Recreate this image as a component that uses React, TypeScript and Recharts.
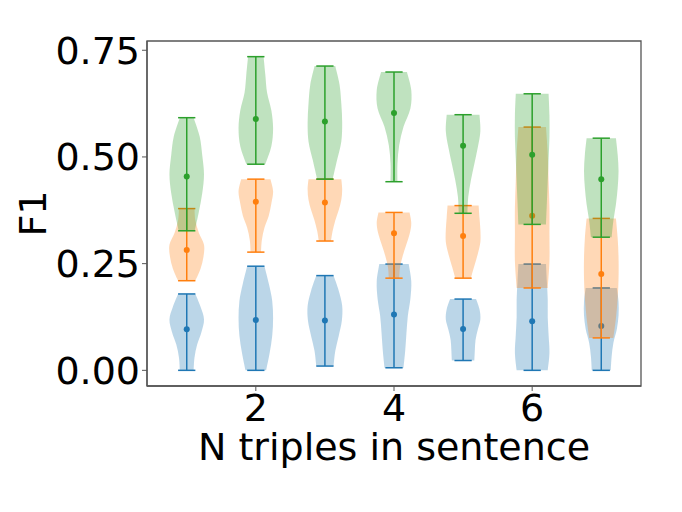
import React from 'react';
import * as R from 'recharts';

const { ComposedChart, XAxis, YAxis, Scatter, ReferenceArea, Label } = R as any;
const RA: any = R;

// ---------- data ----------
const positions = [1, 2, 3, 4, 5, 6, 7];
const xTicks = [2, 4, 6];
const yTicks = [0, 0.25, 0.5, 0.75];

// blue series
const blueMin = [0.0, 0.0, 0.01, 0.006, 0.023, 0.0, 0.0];
const blueMax = [0.179, 0.244, 0.222, 0.249, 0.167, 0.249, 0.193];
const blueMean = [0.096, 0.118, 0.117, 0.131, 0.097, 0.115, 0.104];
// relative half-widths of each violin, from its minimum (first) to its maximum (last)
const blueShape = [
  [0.4, 0.45, 0.6, 0.85, 1.0, 0.8, 0.5],
  [0.6, 0.8, 0.95, 1.0, 0.95, 0.75, 0.5],
  [0.5, 0.6, 0.8, 0.98, 1.0, 0.8, 0.5],
  [0.55, 0.65, 0.72, 0.8, 0.95, 1.0, 0.85],
  [0.65, 0.68, 0.72, 0.85, 1.0, 0.95, 0.75],
  [0.9, 1.0, 0.95, 0.9, 0.9, 0.85, 0.8],
  [0.55, 0.6, 0.7, 0.9, 1.0, 1.0, 0.9],
];

// orange series
const orangeMin = [0.21, 0.277, 0.303, 0.216, 0.216, 0.193, 0.076];
const orangeMax = [0.379, 0.448, 0.448, 0.37, 0.386, 0.57, 0.356];
const orangeMean = [0.282, 0.395, 0.393, 0.321, 0.315, 0.362, 0.226];
const orangeShape = [
  [0.5, 0.8, 0.97, 1.0, 0.7, 0.5, 0.45],
  [0.3, 0.35, 0.5, 0.75, 0.9, 1.0, 0.85],
  [0.35, 0.45, 0.6, 0.8, 0.95, 1.0, 0.95],
  [0.3, 0.35, 0.5, 0.7, 0.9, 1.0, 0.9],
  [0.45, 0.65, 0.85, 1.0, 1.0, 0.95, 0.9],
  [0.9, 1.0, 1.0, 1.0, 0.95, 0.9, 0.8],
  [0.7, 0.85, 0.95, 1.0, 1.0, 0.95, 0.85],
];

// green series
const greenMin = [0.327, 0.483, 0.448, 0.442, 0.368, 0.342, 0.312];
const greenMax = [0.592, 0.735, 0.713, 0.699, 0.599, 0.648, 0.544];
const greenMean = [0.454, 0.589, 0.583, 0.603, 0.526, 0.505, 0.448];
const greenShape = [
  [0.46, 0.7, 0.9, 1.0, 0.9, 0.75, 0.4],
  [0.55, 0.9, 1.0, 0.9, 0.65, 0.55, 0.45],
  [0.45, 0.7, 0.95, 1.0, 0.95, 0.85, 0.6],
  [0.2, 0.2, 0.3, 0.55, 0.95, 1.0, 0.75],
  [0.25, 0.3, 0.45, 0.65, 0.85, 1.0, 0.95],
  [0.8, 0.85, 0.9, 0.95, 1.0, 1.0, 0.95],
  [0.6, 0.7, 0.85, 0.95, 1.0, 0.95, 0.85],
];

// ---------- layout / style ----------
const W = 682;
const H = 512;
const MARGIN = { top: 41, right: 41, bottom: 0, left: 0 };
const Y_AXIS_W = 147;
const X_AXIS_H = 126;
const X_DOMAIN: [number, number] = [0.425, 7.575];
const Y_DOMAIN: [number, number] = [-0.0367, 0.7717];
const VIOLIN_HALF = 0.25;
const CAP_HALF = 0.125;
const FONT = '"DejaVu Sans", Verdana, sans-serif';
const FONT_SIZE = 38;
const SPINE = '#555';
const C_BLUE = '#1f77b4';
const C_ORANGE = '#ff7f0e';
const C_GREEN = '#2ca02c';

function rows(mins: number[], maxs: number[], means: number[], shapes: number[][]) {
  return positions.map((p, i) => ({ pos: p, mean: means[i], min: mins[i], max: maxs[i], shape: shapes[i] }));
}
const blueData = rows(blueMin, blueMax, blueMean, blueShape);
const orangeData = rows(orangeMin, orangeMax, orangeMean, orangeShape);
const greenData = rows(greenMin, greenMax, greenMean, greenShape);

function useScales() {
  const xs = RA.useXAxisScale ? RA.useXAxisScale() : undefined;
  const ys = RA.useYAxisScale ? RA.useYAxisScale() : undefined;
  const plot = RA.usePlotArea ? RA.usePlotArea() : undefined;
  const area = plot || {
    x: MARGIN.left + Y_AXIS_W,
    y: MARGIN.top,
    width: W - MARGIN.left - Y_AXIS_W - MARGIN.right,
    height: H - MARGIN.top - MARGIN.bottom - X_AXIS_H,
  };
  const x =
    typeof xs === 'function'
      ? (v: number) => xs(v)
      : (v: number) => area.x + ((v - X_DOMAIN[0]) / (X_DOMAIN[1] - X_DOMAIN[0])) * area.width;
  const y =
    typeof ys === 'function'
      ? (v: number) => ys(v)
      : (v: number) => area.y + area.height - ((v - Y_DOMAIN[0]) / (Y_DOMAIN[1] - Y_DOMAIN[0])) * area.height;
  return { x, y };
}

function crPath(pts: [number, number][], start: 'M' | 'L'): string {
  let d = `${start}${pts[0][0]},${pts[0][1]}`;
  for (let i = 0; i < pts.length - 1; i++) {
    const p0 = pts[Math.max(0, i - 1)];
    const p1 = pts[i];
    const p2 = pts[i + 1];
    const p3 = pts[Math.min(pts.length - 1, i + 2)];
    const c1x = p1[0] + (p2[0] - p0[0]) / 6;
    const c1y = p1[1] + (p2[1] - p0[1]) / 6;
    const c2x = p2[0] - (p3[0] - p1[0]) / 6;
    const c2y = p2[1] - (p3[1] - p1[1]) / 6;
    d += ` C${c1x},${c1y} ${c2x},${c2y} ${p2[0]},${p2[1]}`;
  }
  return d;
}

function Violin(props: any) {
  const { cx, cy, payload, color } = props;
  const sc = useScales();
  if (cx == null || cy == null || !payload) return null;
  const unit = Math.abs(sc.x(payload.pos + 1) - sc.x(payload.pos));
  const n = payload.shape.length;
  const right: [number, number][] = [];
  const left: [number, number][] = [];
  for (let k = 0; k < n; k++) {
    const v = payload.min + (k / (n - 1)) * (payload.max - payload.min);
    const py = sc.y(v);
    const hw = payload.shape[k] * VIOLIN_HALF * unit;
    right.push([cx + hw, py]);
    left.unshift([cx - hw, py]);
  }
  const d = crPath(right, 'M') + ' ' + crPath(left, 'L') + ' Z';
  const yMin = sc.y(payload.min);
  const yMax = sc.y(payload.max);
  const cap = CAP_HALF * unit;
  return (
    <g>
      <path d={d} fill={color} fillOpacity={0.3} stroke="none" />
      <line x1={cx} x2={cx} y1={yMin} y2={yMax} stroke={color} strokeWidth={1.5} />
      <line x1={cx - cap} x2={cx + cap} y1={yMin} y2={yMin} stroke={color} strokeWidth={1.5} />
      <line x1={cx - cap} x2={cx + cap} y1={yMax} y2={yMax} stroke={color} strokeWidth={1.5} />
      <circle cx={cx} cy={cy} r={3} fill={color} />
    </g>
  );
}

const tickStyle = { fontFamily: FONT, fontSize: FONT_SIZE, fill: '#000' };

export default function App() {
  return (
    <div style={{ position: 'absolute', left: 0, top: 0, width: W, height: H, background: '#fff' }}>
      <ComposedChart width={W} height={H} margin={MARGIN}>
        <XAxis
          dataKey="pos"
          type="number"
          domain={X_DOMAIN}
          allowDataOverflow
          ticks={xTicks}
          height={X_AXIS_H}
          tick={tickStyle}
          tickSize={5}
          tickMargin={3}
          tickLine={{ stroke: SPINE }}
          axisLine={{ stroke: SPINE, strokeWidth: 1.3 }}
        >
          <Label
            value="N triples in sentence"
            position="insideBottom"
            offset={52}
            style={{ fontFamily: FONT, fontSize: FONT_SIZE, fill: '#000' }}
          />
        </XAxis>
        <YAxis
          dataKey="mean"
          type="number"
          domain={Y_DOMAIN}
          allowDataOverflow
          ticks={yTicks}
          width={Y_AXIS_W}
          tick={tickStyle}
          tickFormatter={(v: number) => v.toFixed(2)}
          tickSize={5}
          tickMargin={2}
          tickLine={{ stroke: SPINE }}
          axisLine={{ stroke: SPINE, strokeWidth: 1.3 }}
        >
          <Label
            value="F1"
            angle={-90}
            position="insideLeft"
            offset={33}
            style={{ fontFamily: FONT, fontSize: FONT_SIZE, fill: '#000', textAnchor: 'middle' }}
          />
        </YAxis>
        <ReferenceArea
          x1={X_DOMAIN[0]}
          x2={X_DOMAIN[1]}
          y1={Y_DOMAIN[0]}
          y2={Y_DOMAIN[1]}
          fill="none"
          stroke={SPINE}
          strokeWidth={1.3}
          fillOpacity={0}
        />
        <Scatter data={blueData} isAnimationActive={false} shape={(p: any) => <Violin {...p} color={C_BLUE} />} />
        <Scatter data={orangeData} isAnimationActive={false} shape={(p: any) => <Violin {...p} color={C_ORANGE} />} />
        <Scatter data={greenData} isAnimationActive={false} shape={(p: any) => <Violin {...p} color={C_GREEN} />} />
      </ComposedChart>
    </div>
  );
}
